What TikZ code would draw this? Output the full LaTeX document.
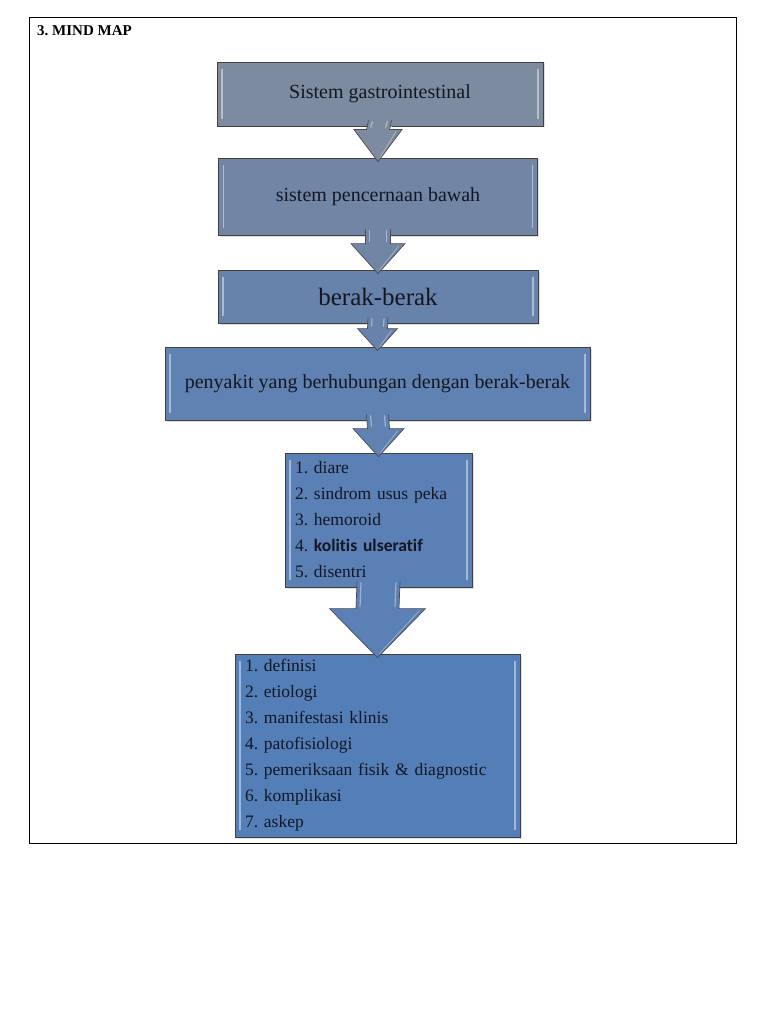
\documentclass[tikz,border=0pt]{standalone}
\usepackage{fontspec}
\setmainfont{Liberation Serif}
\newfontfamily\carl[Ligatures={NoCommon}]{Carlito}
\usetikzlibrary{calc,shadows}
\frenchspacing
\definecolor{cA}{RGB}{124,139,160}
\definecolor{cB}{RGB}{113,133,164}
\definecolor{cC}{RGB}{104,131,171}
\definecolor{cD}{RGB}{96,130,178}
\definecolor{cE}{RGB}{90,128,182}
\definecolor{cF}{RGB}{84,126,184}
\definecolor{txt}{RGB}{20,22,34}
\tikzset{
  box/.style={draw=black!75, line width=0.8pt, rectangle, inner sep=0pt, text=txt,
    drop shadow={opacity=0.25, shadow xshift=1.5pt, shadow yshift=-1.5pt},
    path picture={
      \draw[white, opacity=0.45, line width=1.3pt]
        ([xshift=5pt,yshift=-7pt]path picture bounding box.north west) --
        ([xshift=5pt,yshift=7pt]path picture bounding box.south west);
      \draw[white, opacity=0.45, line width=1.3pt]
        ([xshift=-5pt,yshift=-7pt]path picture bounding box.north east) --
        ([xshift=-5pt,yshift=7pt]path picture bounding box.south east);
    }},
  listbox/.style={box, align=left, inner xsep=10pt, font=\fontsize{17.5}{26}\selectfont},
  arrowstyle/.style={draw=black!70, line width=0.7pt, line join=miter},
  stripe/.style={white, opacity=0.4, line width=1.2pt}
}
% #1 from, #2 to, #3 shaft half width, #4 head half width, #5 head length, #6 colour
\newcommand\blockarrow[6]{%
  \fill[#6] ($(#1.south)+(-#3,-6)$) rectangle ($(#1.south)+(#3,1)$);
  \draw[arrowstyle, fill=#6]
    ($(#1.south)+(-#3,-6)$) -- ($(#2.north)+(-#3,4-#5)$) -- ($(#2.north)+(-#4,4-#5)$) --
    ($(#2.north)+(0,4)$) -- ($(#2.north)+(#4,4-#5)$) -- ($(#2.north)+(#3,4-#5)$) --
    ($(#1.south)+(#3,-6)$);
  \draw[stripe] ($(#1.south)+(-#3+4,-5)$) -- ($(#2.north)+(-#3+4,2-#5)$);
  \draw[stripe] ($(#1.south)+(#3-4,-5)$) -- ($(#2.north)+(#3-4,2-#5)$);
  \draw[white, opacity=0.3, line width=1pt] ($(#2.north)+(#4-6,6-#5)$) -- ($(#2.north)+(2,0)$);
}
\begin{document}
\begin{tikzpicture}[x=1pt,y=-1pt]
\useasboundingbox[fill=white] (0,0) rectangle (768,1024);
\draw[line width=0.8pt] (29,17) rectangle (736,843);
\node[anchor=base west, inner sep=0pt, font=\bfseries\fontsize{15}{17}\selectfont] (title) at (37,36) {3. MIND MAP};

\node[box, fill=cA, minimum width=326pt, minimum height=64pt, font=\fontsize{20}{24}\selectfont] (b1) at (380,94) {Sistem gastrointestinal};
\node[box, fill=cB, minimum width=319pt, minimum height=77pt, font=\fontsize{20}{24}\selectfont] (b2) at (378,196.5) {sistem pencernaan bawah};
\node[box, fill=cC, minimum width=320pt, minimum height=53pt, font=\fontsize{25}{30}\selectfont] (b3) at (378,296.5) {berak-berak};
\node[box, fill=cD, minimum width=425pt, minimum height=73pt, font=\fontsize{20}{24}\selectfont] (b4) at (377.5,383.5) {penyakit yang berhubungan dengan berak-berak};
\node[listbox, fill=cE, text width=167pt, minimum height=134pt] (b5) at (378.5,520) {1. diare\\2. sindrom usus peka\\3. hemoroid\\4. {\carl\bfseries kolitis ulseratif}\\5. disentri};
\node[listbox, fill=cF, text width=265pt, minimum height=183pt] (b6) at (377.5,745.5) {1. definisi\\2. etiologi\\3. manifestasi klinis\\4. patofisiologi\\5. pemeriksaan fisik \& diagnostic\\6. komplikasi\\7. askep};

\blockarrow{b1}{b2}{11.5}{24}{32}{cA}
\blockarrow{b2}{b3}{12.5}{27}{30}{cB}
\blockarrow{b3}{b4}{10}{20}{22}{cC}
\blockarrow{b4}{b5}{11}{25.5}{28}{cD}
\blockarrow{b5}{b6}{21.5}{48}{49}{cE}
\end{tikzpicture}
\end{document}
